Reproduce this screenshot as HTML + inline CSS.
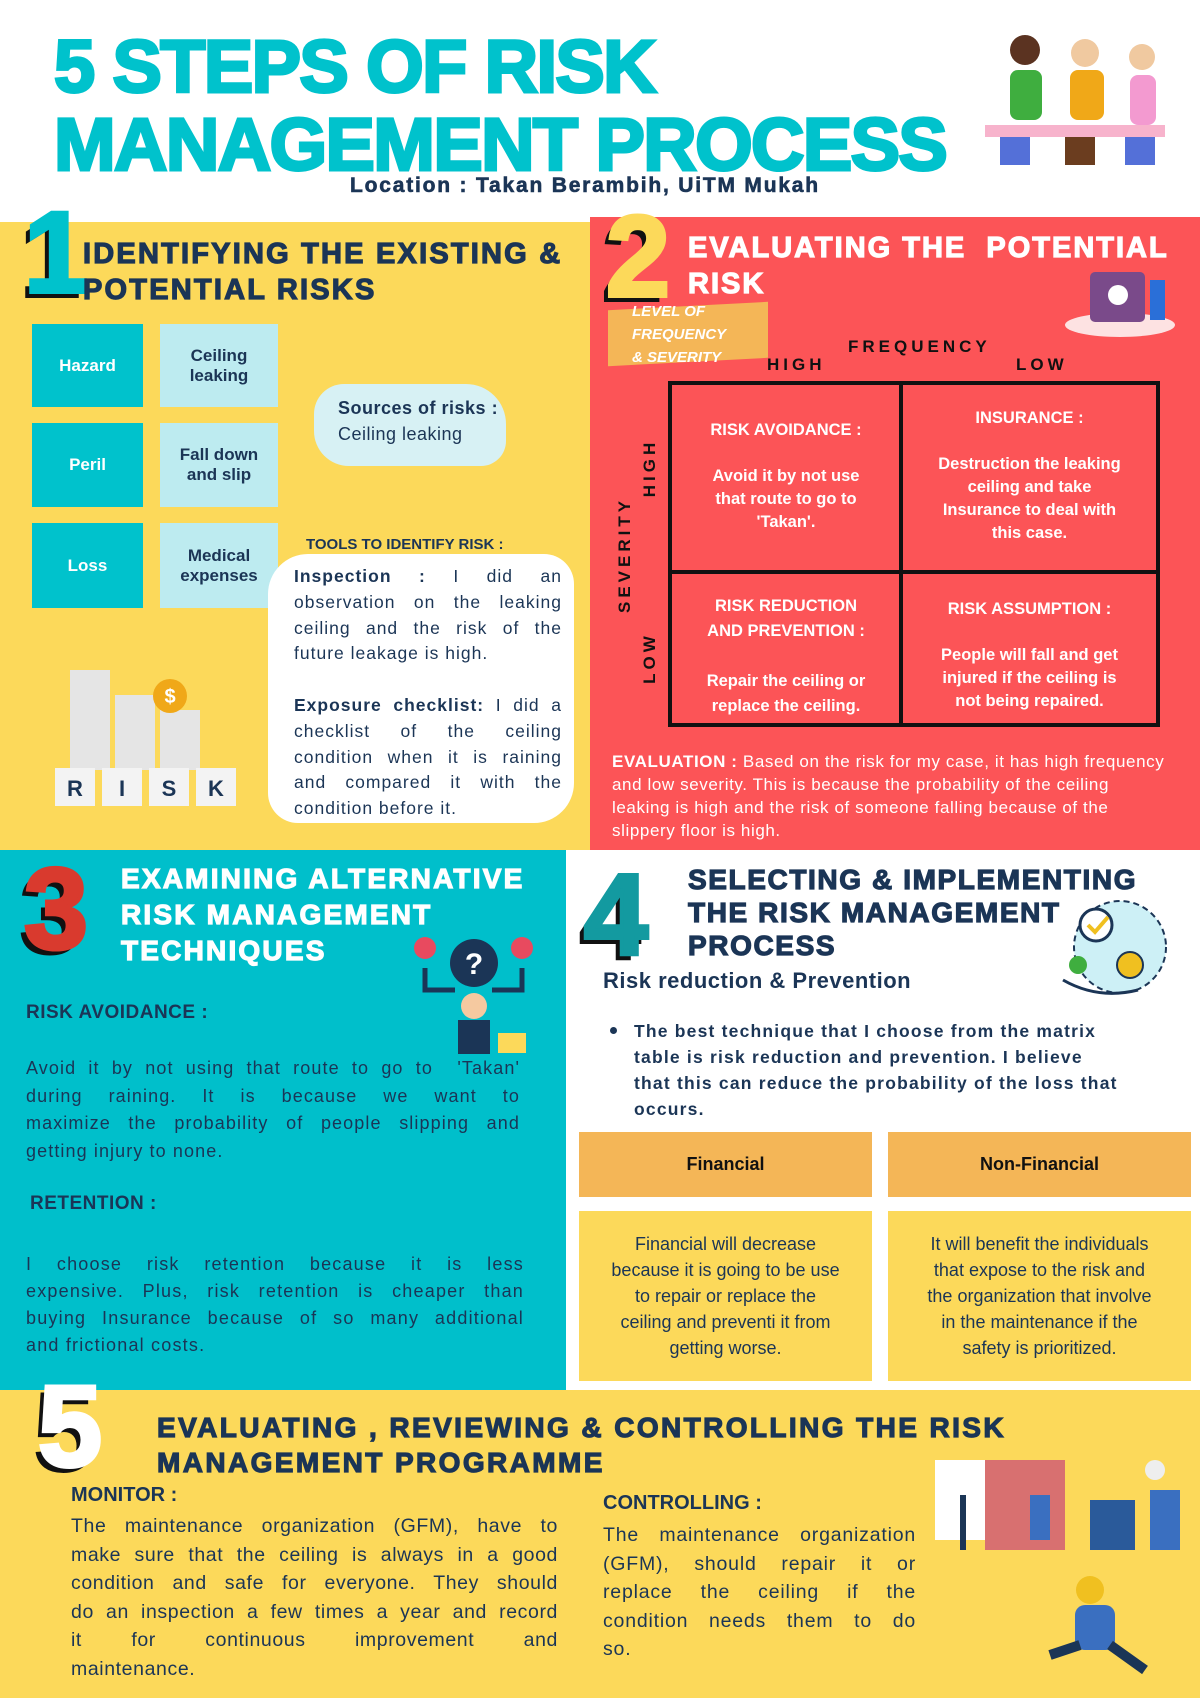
<!DOCTYPE html>
<html><head><meta charset="utf-8"><style>
*{margin:0;padding:0;box-sizing:border-box}
body{width:1200px;height:1698px;position:relative;overflow:hidden;background:#fff;font-family:"Liberation Sans",Arial,sans-serif}
.a{position:absolute}
.hd{font-family:"Liberation Sans",Arial,sans-serif;font-weight:bold;letter-spacing:2.2px;-webkit-text-stroke:1.2px currentColor}
.num{font-family:"Liberation Sans",Arial,sans-serif;font-weight:bold;font-size:115px;line-height:1;letter-spacing:-4px;-webkit-text-stroke:4px currentColor}
.box{position:absolute;display:flex;align-items:center;justify-content:center;text-align:center;font-weight:bold;font-size:17px}
.j{text-align:justify}
.j div{text-align:justify;text-align-last:justify;white-space:nowrap}
.j div.l{text-align-last:left}
.cell{position:absolute;color:#fff;font-weight:bold;text-align:center;font-size:16.5px;line-height:23px}
</style></head><body>

<!-- Title -->
<div class="a hd" style="left:54px;top:28px;font-size:74px;line-height:78px;color:#00c2cc;letter-spacing:-1.6px;-webkit-text-stroke:3px #00c2cc">5 STEPS OF RISK<br>MANAGEMENT PROCESS</div>
<div class="a" style="left:350px;top:174px;font-size:21px;font-weight:bold;color:#1b3556;letter-spacing:1.8px;-webkit-text-stroke:0.6px #1b3556">Location : Takan Berambih, UiTM Mukah</div>
<!-- people illustration -->
<svg class="a" style="left:980px;top:25px" width="200" height="150">
<rect x="5" y="100" width="180" height="12" fill="#f7b3cc"/>
<circle cx="45" cy="25" r="15" fill="#5b3321"/><rect x="30" y="45" width="32" height="50" rx="8" fill="#3fae3f"/>
<circle cx="105" cy="28" r="14" fill="#f0c9a0"/><rect x="90" y="45" width="34" height="50" rx="8" fill="#f0a818"/>
<circle cx="162" cy="32" r="13" fill="#f0c9a0"/><rect x="150" y="50" width="26" height="50" rx="8" fill="#f39ad0"/>
<rect x="20" y="112" width="30" height="28" fill="#5470d8"/><rect x="85" y="112" width="30" height="28" fill="#6b3d1f"/><rect x="145" y="112" width="30" height="28" fill="#5470d8"/>
</svg>

<!-- Section 1 -->
<div class="a" style="left:0;top:222px;width:590px;height:628px;background:#fcd95a"></div>
<div class="a num" style="left:24px;top:196px;color:#00c2cc;text-shadow:-6px 6px 0 #111">1</div>
<div class="a hd" style="left:83px;top:236px;font-size:29px;line-height:36px;color:#1b3556">IDENTIFYING THE EXISTING &amp;<br>POTENTIAL RISKS</div>
<div class="box" style="left:32px;top:324px;width:111px;height:83px;background:#00c2cc;color:#fff">Hazard</div>
<div class="box" style="left:160px;top:324px;width:118px;height:83px;background:#bdebf0;color:#1b3556">Ceiling<br>leaking</div>
<div class="box" style="left:32px;top:423px;width:111px;height:84px;background:#00c2cc;color:#fff">Peril</div>
<div class="box" style="left:160px;top:423px;width:118px;height:84px;background:#bdebf0;color:#1b3556">Fall down<br>and slip</div>
<div class="box" style="left:32px;top:523px;width:111px;height:85px;background:#00c2cc;color:#fff">Loss</div>
<div class="box" style="left:160px;top:523px;width:118px;height:85px;background:#bdebf0;color:#1b3556">Medical<br>expenses</div>
<div class="a" style="left:314px;top:384px;width:192px;height:82px;background:#d7f1f4;border-radius:30px 40px 25px 35px"></div>
<div class="a" style="left:338px;top:395px;font-size:18px;line-height:26px;color:#1b3556;letter-spacing:0.5px"><b>Sources of risks :</b><br>Ceiling leaking</div>
<div class="a" style="left:306px;top:536px;font-size:15px;font-weight:bold;color:#1b3556">TOOLS TO IDENTIFY RISK :</div>
<div class="a" style="left:268px;top:554px;width:306px;height:269px;background:#fff;border-radius:40px 30px 40px 30px"></div>
<div class="a j" style="left:294px;top:564px;width:268px;font-size:17.5px;line-height:25.8px;color:#1b3556;letter-spacing:1px"><b>Inspection :</b> I did an observation on the leaking ceiling and the risk of the future leakage is high.<br><br><b>Exposure checklist:</b> I did a checklist of the ceiling condition when it is raining and compared it with the condition before it.</div>
<!-- RISK illustration -->
<svg class="a" style="left:45px;top:650px" width="210" height="165">
<rect x="25" y="20" width="40" height="100" fill="#e5e5e5"/><rect x="70" y="45" width="40" height="75" fill="#e5e5e5"/><rect x="115" y="60" width="40" height="60" fill="#e5e5e5"/>
<circle cx="125" cy="46" r="17" fill="#f0a818"/><text x="125" y="53" font-size="20" fill="#fff" text-anchor="middle" font-family="Liberation Sans" font-weight="bold">$</text>
<rect x="10" y="118" width="40" height="38" fill="#f3f3f3"/><rect x="57" y="118" width="40" height="38" fill="#f3f3f3"/><rect x="104" y="118" width="40" height="38" fill="#f3f3f3"/><rect x="151" y="118" width="40" height="38" fill="#f3f3f3"/>
<text x="30" y="146" font-size="22" fill="#1b3556" text-anchor="middle" font-family="Liberation Sans" font-weight="bold">R</text>
<text x="77" y="146" font-size="22" fill="#1b3556" text-anchor="middle" font-family="Liberation Sans" font-weight="bold">I</text>
<text x="124" y="146" font-size="22" fill="#1b3556" text-anchor="middle" font-family="Liberation Sans" font-weight="bold">S</text>
<text x="171" y="146" font-size="22" fill="#1b3556" text-anchor="middle" font-family="Liberation Sans" font-weight="bold">K</text>
</svg>

<!-- Section 2 -->
<div class="a" style="left:590px;top:217px;width:610px;height:633px;background:#fc5457"></div>
<div class="a num" style="left:606px;top:200px;color:#fcd95a;text-shadow:-6px 6px 0 #111">2</div>
<div class="a hd" style="left:688px;top:230px;font-size:29px;line-height:36px;color:#fff;letter-spacing:2px">EVALUATING THE&nbsp; POTENTIAL<br>RISK</div>
<svg class="a" style="left:1060px;top:260px" width="120" height="80"><ellipse cx="60" cy="65" rx="55" ry="12" fill="#fde2e2"/><rect x="30" y="12" width="55" height="50" rx="5" fill="#7a4a8a"/><circle cx="58" cy="35" r="10" fill="#fff"/><rect x="90" y="20" width="15" height="40" fill="#2a6fd8"/></svg>
<div class="a" style="left:608px;top:306px;width:160px;height:56px;background:#f4b657;transform:skewY(-3deg)"></div>
<div class="a" style="left:632px;top:300px;font-size:15px;line-height:23px;color:#fff;font-style:italic;font-weight:bold">LEVEL OF<br>FREQUENCY<br>&amp; SEVERITY</div>
<div class="a" style="left:848px;top:337px;font-size:17px;font-weight:bold;letter-spacing:4px;color:#111">FREQUENCY</div>
<div class="a" style="left:767px;top:355px;font-size:17px;font-weight:bold;letter-spacing:4px;color:#111">HIGH</div>
<div class="a" style="left:1016px;top:355px;font-size:17px;font-weight:bold;letter-spacing:4px;color:#111">LOW</div>
<div class="a" style="left:668px;top:381px;width:492px;height:346px;border:4px solid #111"></div>
<div class="a" style="left:899px;top:381px;width:4px;height:346px;background:#111"></div>
<div class="a" style="left:668px;top:570px;width:492px;height:4px;background:#111"></div>
<div class="a" style="left:570px;top:548px;width:110px;font-size:17px;font-weight:bold;letter-spacing:4px;color:#111;transform:rotate(-90deg);text-align:center">SEVERITY</div>
<div class="a" style="left:615px;top:458px;width:70px;font-size:17px;font-weight:bold;letter-spacing:4px;color:#111;transform:rotate(-90deg);text-align:center">HIGH</div>
<div class="a" style="left:615px;top:648px;width:70px;font-size:17px;font-weight:bold;letter-spacing:4px;color:#111;transform:rotate(-90deg);text-align:center">LOW</div>
<div class="cell" style="left:672px;top:419px;width:228px">RISK AVOIDANCE :<br><br>Avoid it by not use<br>that route to go to<br>'Takan'.</div>
<div class="cell" style="left:903px;top:407px;width:253px">INSURANCE :<br><br>Destruction the leaking<br>ceiling and take<br>Insurance to deal with<br>this case.</div>
<div class="cell" style="left:672px;top:594px;width:228px;line-height:25px">RISK REDUCTION<br>AND PREVENTION :<br><br>Repair the ceiling or<br>replace the ceiling.</div>
<div class="cell" style="left:903px;top:598px;width:253px">RISK ASSUMPTION :<br><br>People will fall and get<br>injured if the ceiling is<br>not being repaired.</div>
<div class="a" style="left:612px;top:750px;width:585px;font-size:17px;line-height:23px;color:#fff;letter-spacing:0.6px;white-space:nowrap"><b>EVALUATION :</b> Based on the risk for my case, it has high frequency<br>and low severity. This is because the probability of the ceiling<br>leaking is high and the risk of someone falling because of the<br>slippery floor is high.</div>

<!-- Section 3 -->
<div class="a" style="left:0;top:850px;width:566px;height:540px;background:#00bfcb"></div>
<div class="a num" style="left:24px;top:852px;color:#d93a2e;text-shadow:-6px 6px 0 #111">3</div>
<div class="a hd" style="left:121px;top:861px;font-size:28px;line-height:36px;color:#fff">EXAMINING ALTERNATIVE<br>RISK MANAGEMENT<br>TECHNIQUES</div>
<svg class="a" style="left:410px;top:928px" width="130" height="128">
<circle cx="15" cy="20" r="11" fill="#e84a5f"/><circle cx="112" cy="20" r="11" fill="#e84a5f"/>
<circle cx="64" cy="35" r="24" fill="#1b3556"/><text x="64" y="46" font-size="30" fill="#fff" text-anchor="middle" font-weight="bold" font-family="Liberation Sans">?</text>
<path d="M15 40 V62 H45 M112 40 V62 H82" stroke="#1b3556" stroke-width="5" fill="none"/>
<circle cx="64" cy="78" r="13" fill="#f5c9a0"/><rect x="48" y="92" width="32" height="34" fill="#1b3556"/>
<rect x="88" y="105" width="28" height="20" fill="#fcd95a"/>
</svg>
<div class="a" style="left:26px;top:1002px;font-size:19px;font-weight:bold;color:#1b3556;letter-spacing:0.5px">RISK AVOIDANCE :</div>
<div class="a j" style="left:26px;top:1055px;width:494px;font-size:18px;line-height:27.5px;color:#1b3556;letter-spacing:1.1px"><div>Avoid it by not using that route to go to &nbsp;'Takan'</div><div>during raining. It is because we want to</div><div>maximize the probability of people slipping and</div><div class="l">getting injury to none.</div></div>
<div class="a" style="left:30px;top:1193px;font-size:19px;font-weight:bold;color:#1b3556;letter-spacing:0.5px">RETENTION :</div>
<div class="a j" style="left:26px;top:1251px;width:498px;font-size:18px;line-height:27px;color:#1b3556;letter-spacing:1.2px"><div>I choose risk retention because it is less</div><div>expensive. Plus, risk retention is cheaper than</div><div>buying Insurance because of so many additional</div><div class="l">and frictional costs.</div></div>

<!-- Section 4 -->
<div class="a num" style="left:584px;top:858px;color:#139aa0;text-shadow:-6px 6px 0 #111">4</div>
<div class="a hd" style="left:688px;top:863px;font-size:28px;line-height:33px;color:#1b3556;letter-spacing:1.6px">SELECTING &amp; IMPLEMENTING<br>THE RISK MANAGEMENT<br>PROCESS</div>
<svg class="a" style="left:1058px;top:895px" width="120" height="110">
<circle cx="62" cy="52" r="46" fill="#cdf0f6" stroke="#1b3556" stroke-width="2" stroke-dasharray="6 4"/>
<circle cx="38" cy="30" r="16" fill="#fff" stroke="#1b3556" stroke-width="3"/><path d="M30 30 L37 37 L50 22" stroke="#f0c020" stroke-width="4" fill="none"/>
<circle cx="72" cy="70" r="13" fill="#f0c020" stroke="#1b3556" stroke-width="2"/><circle cx="20" cy="70" r="9" fill="#3fae3f"/>
<path d="M5 85 Q40 105 80 95" stroke="#1b3556" stroke-width="3" fill="none"/>
</svg>
<div class="a" style="left:603px;top:968px;font-size:22px;font-weight:bold;color:#1b3556;letter-spacing:0.5px">Risk reduction &amp; Prevention</div>
<div class="a" style="left:610px;top:1027px;width:7px;height:7px;border-radius:50%;background:#1b3556"></div>
<div class="a" style="left:634px;top:1018px;width:530px;font-size:17.5px;line-height:26px;color:#1b3556;font-weight:bold;letter-spacing:1.2px;white-space:nowrap">The best technique that I choose from the matrix<br>table is risk reduction and prevention. I believe<br>that this can reduce the probability of the loss that<br>occurs.</div>
<div class="box" style="left:579px;top:1132px;width:293px;height:65px;background:#f4b657;color:#111;font-size:18px">Financial</div>
<div class="box" style="left:888px;top:1132px;width:303px;height:65px;background:#f4b657;color:#111;font-size:18px">Non-Financial</div>
<div class="box" style="left:579px;top:1211px;width:293px;height:170px;background:#fcd95a;color:#1b3556;font-weight:normal;font-size:18px;line-height:26px;padding:0 10px">Financial will decrease<br>because it is going to be use<br>to repair or replace the<br>ceiling and preventi it from<br>getting worse.</div>
<div class="box" style="left:888px;top:1211px;width:303px;height:170px;background:#fcd95a;color:#1b3556;font-weight:normal;font-size:18px;line-height:26px;padding:0 10px">It will benefit the individuals<br>that expose to the risk and<br>the organization that involve<br>in the maintenance if the<br>safety is prioritized.</div>

<!-- Section 5 -->
<div class="a" style="left:0;top:1390px;width:1200px;height:308px;background:#fcd95a"></div>
<div class="a num" style="left:38px;top:1370px;color:#fff;text-shadow:-6px 6px 0 #111">5</div>
<div class="a hd" style="left:157px;top:1410px;font-size:28px;line-height:35px;color:#1b3556;letter-spacing:2.4px">EVALUATING , REVIEWING &amp; CONTROLLING THE RISK<br>MANAGEMENT PROGRAMME</div>
<div class="a" style="left:71px;top:1484px;font-size:20px;font-weight:bold;color:#1b3556">MONITOR :</div>
<div class="a j" style="left:71px;top:1512px;width:487px;font-size:19.5px;line-height:28.5px;color:#1b3556;letter-spacing:0.6px"><div>The maintenance organization (GFM), have to</div><div>make sure that the ceiling is always in a good</div><div>condition and safe for everyone. They should</div><div>do an inspection a few times a year and record</div><div>it for continuous improvement and</div><div class="l">maintenance.</div></div>
<div class="a" style="left:603px;top:1492px;font-size:20px;font-weight:bold;color:#1b3556">CONTROLLING :</div>
<div class="a j" style="left:603px;top:1521px;width:313px;font-size:19.5px;line-height:28.5px;color:#1b3556;letter-spacing:0.8px"><div>The maintenance organization</div><div>(GFM), should repair it or</div><div>replace the ceiling if the</div><div>condition needs them to do</div><div class="l">so.</div></div>
<svg class="a" style="left:930px;top:1455px" width="265" height="240">
<rect x="5" y="5" width="130" height="80" fill="#fff"/><rect x="55" y="5" width="80" height="90" fill="#d87070"/>
<rect x="30" y="40" width="6" height="55" fill="#1b3556"/><rect x="100" y="40" width="20" height="45" fill="#3a6fc0"/>
<rect x="160" y="45" width="45" height="50" fill="#2a5a9a"/><rect x="220" y="35" width="30" height="60" fill="#3a6fc0"/>
<circle cx="225" cy="15" r="10" fill="#eee"/>
<circle cx="160" cy="135" r="14" fill="#f0c020"/><rect x="145" y="150" width="40" height="45" rx="10" fill="#3a6fc0"/>
<path d="M150 190 L120 200 M180 190 L215 215" stroke="#1b3556" stroke-width="10"/>
</svg>
</body></html>
